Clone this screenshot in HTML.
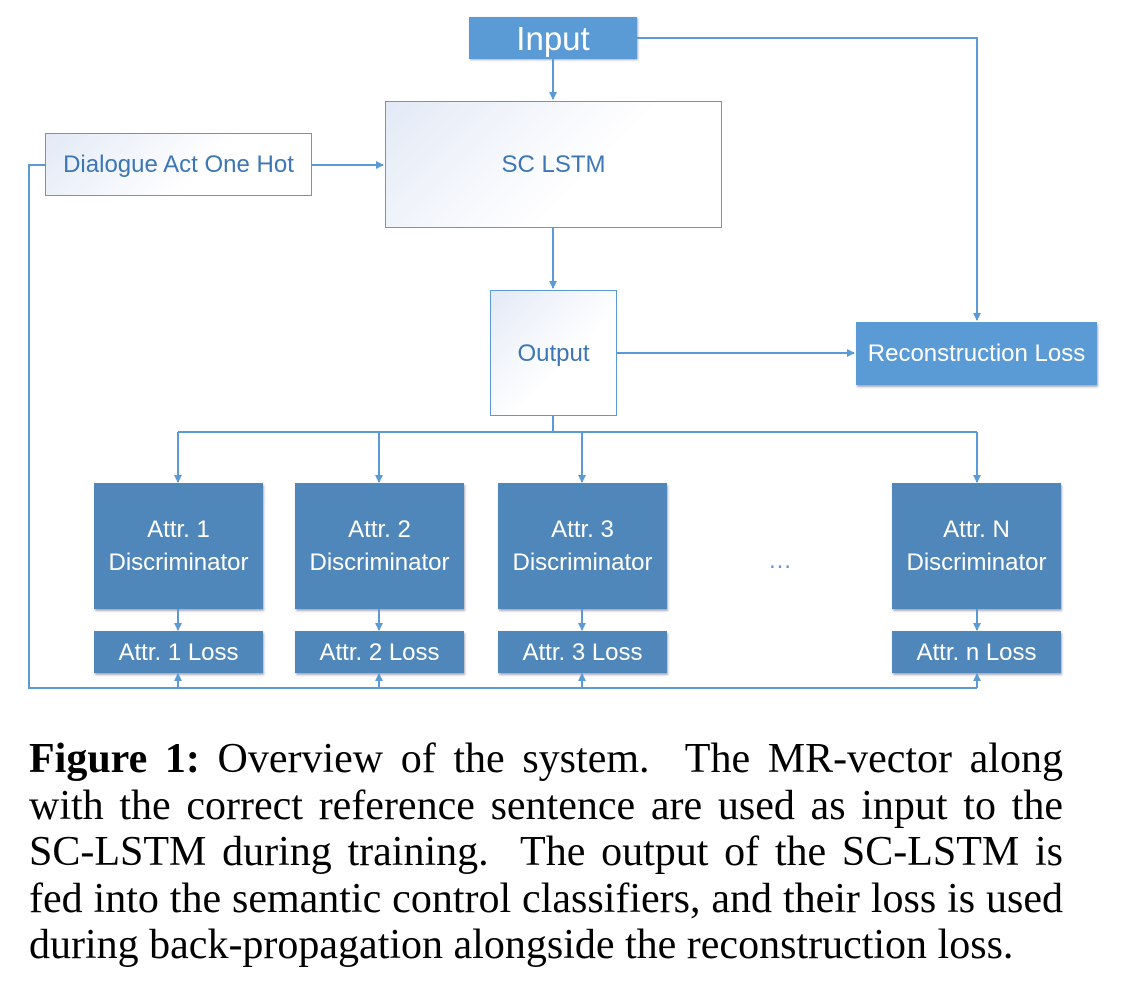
<!DOCTYPE html>
<html><head><style>
body{margin:0;width:1122px;height:994px;background:#fff;position:relative;overflow:hidden}
.b{position:absolute;box-sizing:border-box;display:flex;align-items:center;justify-content:center;text-align:center;font-family:"Liberation Sans",sans-serif;font-size:24px;line-height:33px}
.lt{border:1.5px solid #5b9bd5;color:#3d76b5;background:linear-gradient(135deg,#e3eaf6 0%,#fff 60%)}
.dk{background:#4f87ba;color:#fff;box-shadow:1px 2px 2px #aab}
.cap{position:absolute;left:29px;width:1034px;font-family:"Liberation Serif",serif;font-size:42px;line-height:46.5px;top:736px;color:#000}
.cap div{text-align:justify;text-align-last:justify;white-space:nowrap}
.cap div.l{text-align-last:left}
svg{z-index:5}
</style></head><body>
<div class="b" style="left:469px;top:17px;width:168px;height:42px;background:#5b9bd5;color:#fff;font-size:33px;box-shadow:1px 1px 2px #aab">Input</div>
<div class="b lt" style="left:385px;top:101px;width:337px;height:127px">SC LSTM</div>
<div class="b lt" style="left:45px;top:133px;width:267px;height:63px">Dialogue Act One Hot</div>
<div class="b lt" style="left:490px;top:290px;width:127px;height:126px">Output</div>
<div class="b" style="left:856px;top:322px;width:241px;height:63px;background:#5b9bd5;color:#fff;box-shadow:1px 2px 2px #aab">Reconstruction Loss</div>
<div class="b dk" style="left:94px;top:483px;width:169px;height:126px">Attr. 1<br>Discriminator</div>
<div class="b dk" style="left:295px;top:483px;width:169px;height:126px">Attr. 2<br>Discriminator</div>
<div class="b dk" style="left:498px;top:483px;width:169px;height:126px">Attr. 3<br>Discriminator</div>
<div class="b dk" style="left:892px;top:483px;width:169px;height:126px">Attr. N<br>Discriminator</div>
<div class="b" style="left:740px;top:545px;width:80px;height:30px;color:#5b9bd5">…</div>
<div class="b dk" style="left:94px;top:631px;width:169px;height:42px">Attr. 1 Loss</div>
<div class="b dk" style="left:295px;top:631px;width:169px;height:42px">Attr. 2 Loss</div>
<div class="b dk" style="left:498px;top:631px;width:169px;height:42px">Attr. 3 Loss</div>
<div class="b dk" style="left:892px;top:631px;width:169px;height:42px">Attr. n Loss</div>
<svg width="1122" height="994" style="position:absolute;left:0;top:0" fill="none" stroke="#5b9bd5" stroke-width="2">
<defs><marker id="a" markerWidth="8" markerHeight="8" refX="7" refY="4" orient="auto" markerUnits="userSpaceOnUse"><path d="M0,0L8,4L0,8z" fill="#5b9bd5" stroke="none"/></marker></defs>
<path d="M553,59V99" marker-end="url(#a)"/>
<path d="M637,38H977V320" marker-end="url(#a)"/>
<path d="M312,165H383" marker-end="url(#a)"/>
<path d="M553,228V288" marker-end="url(#a)"/>
<path d="M617,353H854" marker-end="url(#a)"/>
<path d="M553,416V432M178,432H977"/>
<path d="M178,432V482" marker-end="url(#a)"/>
<path d="M379,432V482" marker-end="url(#a)"/>
<path d="M582,432V482" marker-end="url(#a)"/>
<path d="M977,432V482" marker-end="url(#a)"/>
<path d="M178,609V630" marker-end="url(#a)"/>
<path d="M379,609V630" marker-end="url(#a)"/>
<path d="M582,609V630" marker-end="url(#a)"/>
<path d="M977,609V630" marker-end="url(#a)"/>
<path d="M45,165H29V688H977"/>
<path d="M178,688V674" marker-end="url(#a)"/>
<path d="M379,688V674" marker-end="url(#a)"/>
<path d="M582,688V674" marker-end="url(#a)"/>
<path d="M977,688V674" marker-end="url(#a)"/>
</svg>
<div class="cap">
<div><b>Figure 1:</b> Overview of the system. &nbsp;The MR-vector along</div>
<div>with the correct reference sentence are used as input to the</div>
<div>SC-LSTM during training. &nbsp;The output of the SC-LSTM is</div>
<div>fed into the semantic control classifiers, and their loss is used</div>
<div class="l">during back-propagation alongside the reconstruction loss.</div>
</div>
</body></html>
